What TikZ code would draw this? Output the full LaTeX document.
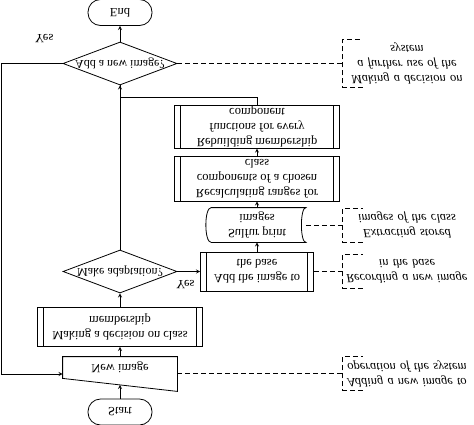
\documentclass[tikz,border=0pt]{standalone}
\usepackage{fontspec}
\setmainfont{Liberation Serif}
\usetikzlibrary{shapes.geometric, arrows}
\tikzstyle{startstop} = [rectangle, rounded corners=12.5pt, minimum width=64pt, minimum height=26pt, text centered, draw=black]
\tikzstyle{process} = [rectangle, minimum width=165pt, align=center, inner sep=0.5pt, draw=black,
	path picture={\draw ([xshift=6pt]path picture bounding box.south west) -- ([xshift=6pt]path picture bounding box.north west);
		\draw ([xshift=-6pt]path picture bounding box.south east) -- ([xshift=-6pt]path picture bounding box.north east);}]
\tikzstyle{decision} = [diamond, aspect=2.65, minimum width=114pt, minimum height=43pt, inner sep=-2pt, text centered, draw=black, font=\fontsize{12}{14}\selectfont]
\tikzstyle{io_in} = [rectangle, minimum width=114pt, minimum height=21pt, inner sep=0pt, text centered, draw=none]
\tikzstyle{storage} = [rectangle, minimum width=97pt, minimum height=34pt, inner sep=0pt, align=center, draw=none]
\tikzstyle{note} = [rectangle, text width=124pt, inner sep=2pt, align=center, draw=none, font=\fontsize{12.5}{15}\selectfont\itshape]
\tikzstyle{note_line} = [dash pattern=on 5pt off 3pt]
\tikzstyle{arrow} = [->,>=stealth]

\begin{document}
\begin{tikzpicture}[x=1pt, y=1pt, yscale=-1, transform shape, line width=0.8pt, node distance=40pt, font=\fontsize{12.5}{15}\selectfont]
	\useasboundingbox (0,0) rectangle (474,424);
	\node (start) [startstop] at (120,412) {Start};
	\node (newimg) [io_in, node distance=44.5pt, below of=start] {New image};
	\draw (newimg.north west) -- (newimg.south west) -- (newimg.south east) -- ([yshift=13pt]newimg.north east) -- cycle;
	\node (decide) [process, node distance=40.5pt, below of=newimg, minimum height=39pt] {Making a decision on class\\membership};
	\node (adapt) [decision, node distance=55.5pt, below of=decide] {Make adaptation?};
	\node (addnew) [decision, node distance=208pt, below of=adapt] {Add a new image?};
	\node (end) [startstop, node distance=51pt, below of=addnew] {End};
	
	\node (addbase) [process, node distance=137pt, right of=adapt, minimum width=113pt, minimum height=39pt] {Add the image to\\the base};
	\node (sulfur) [storage, node distance=46.5pt, below of=addbase] {Sulfur print\\images};
	\draw ([xshift=3pt]sulfur.north west) -- (sulfur.north east) .. controls ([xshift=-6pt]sulfur.north east) and ([xshift=-6pt]sulfur.south east) .. (sulfur.south east) -- ([xshift=3pt]sulfur.south west) .. controls ([xshift=-4pt]sulfur.south west) and ([xshift=-4pt]sulfur.north west) .. ([xshift=3pt]sulfur.north west);
	\node (recalc) [process, node distance=46.5pt, below of=sulfur, minimum height=45pt] {Recalculating ranges for\\components of a chosen\\class};
	\node (rebuild) [process, node distance=51.5pt, below of=recalc, minimum height=42pt] {Rebuilding membership\\functions for every\\component};
	
	% annotations
	\node (note_new) [note, node distance=287pt, right of=newimg, yshift=6pt, minimum height=33pt] {Adding a new image to\\operation of the system};
	\node (note_base) [note, node distance=150pt, right of=addbase, minimum height=33pt] {Recording a new image\\in the base};
	\node (note_sulfur) [note, node distance=150pt, right of=sulfur, minimum height=33pt] {Extracting stored\\images of the class};
	\node (note_add) [note, node distance=287pt, right of=addnew, minimum height=47pt] {Making a decision on\\a further use of the\\system};
	\foreach \n in {note_new, note_base, note_sulfur, note_add}
		\draw [note_line] ([xshift=20pt]\n.north west) -- (\n.north west) -- (\n.south west) -- ([xshift=20pt]\n.south west);
	\draw [note_line] ([yshift=6pt]newimg.east) -- (note_new.west);
	\draw [note_line] (addbase.east) -- (note_base.west);
	\draw [note_line] (sulfur.east) -- (note_sulfur.west);
	\draw [note_line] (addnew.east) -- (note_add.west);
	
	\draw [arrow] (start) -- ([yshift=6.5pt]newimg.north);
	\draw [arrow] (newimg) -- (decide);
	\draw [arrow] (decide) -- (adapt);
	\draw [arrow] (adapt) -- node[pos=0.35, yshift=13pt] (yes_adapt) {Yes} (addbase);
	\draw [arrow] (addbase) -- (sulfur);
	\draw [arrow] (sulfur) -- (recalc);
	\draw [arrow] (recalc) -- (rebuild);
	\draw [arrow] (adapt) -- (addnew);
	\draw (rebuild.south) -- ++(0,-8) -| (addnew.north);
	\draw [arrow] (addnew.west) -- node[pos=0.3, yshift=-25pt] (yes_add) {Yes} ++(-61,0) |- ([yshift=6.5pt]newimg.west);
	\draw [arrow] (addnew) -- (end);
\end{tikzpicture}
\end{document}
